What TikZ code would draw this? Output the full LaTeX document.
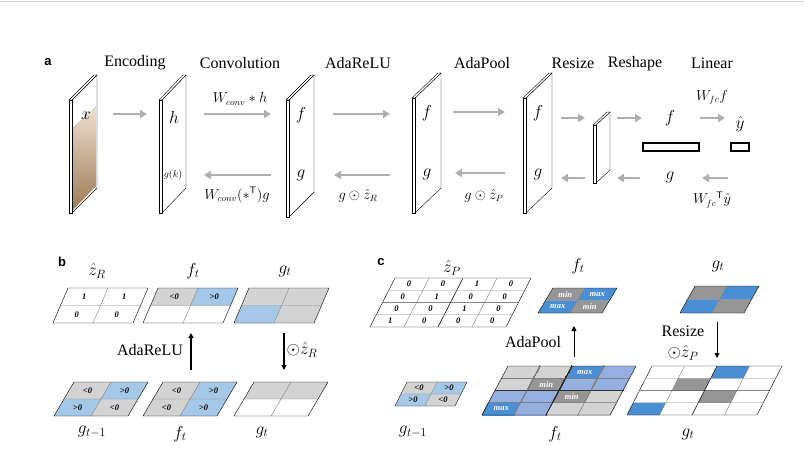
\documentclass[tikz,border=0pt]{standalone}
\usepackage{fontspec}
\setmainfont{Liberation Serif}
\newfontfamily\sansf{Liberation Sans}
\usetikzlibrary{arrows.meta}
\definecolor{lg}{RGB}{211,211,211}
\definecolor{dg}{RGB}{150,150,150}
\definecolor{lb}{RGB}{166,200,232}
\definecolor{mb}{RGB}{150,175,225}
\definecolor{db}{RGB}{74,142,212}
\definecolor{ga}{RGB}{175,175,175}
\tikzset{
 ga/.style={draw=ga,line width=2.2pt,-{Triangle[length=7pt,width=8pt]}},
 ka/.style={draw=black,line width=1.2pt,-{Triangle[length=5pt,width=5pt]}},
 ttl/.style={font=\fontsize{16}{18}\selectfont},
 ml/.style={font=\fontsize{18}{20}\selectfont},
 sl/.style={font=\fontsize{13.5}{15}\selectfont},
 ct/.style={font=\fontsize{8.5}{9}\selectfont\bfseries\itshape},
 cw/.style={ct,text=white},
 pl/.style={font=\sansf\bfseries\fontsize{13}{15}\selectfont}
}
\newcommand\slab[5]{%
 \draw[fill=white] (#1+3,-#2) -- ++(#4,#5) -- ++(0,-#3) -- ++(-#4,-#5) -- cycle;
 \draw[fill=white,line width=0.9pt] (#1,-#2) rectangle (#1+3,-#2-#3);
 \draw[fill=white] (#1,-#2) -- ++(#4,#5) -- ++(3,0) -- (#1+3,-#2) -- cycle;}
\newenvironment{pg}[5]{\begin{scope}[shift={(#1,-#2)},xscale=#3,yscale=#4,xslant=#5/#3]}{\end{scope}}
\newcommand\cell[3]{\fill[#3] (#1,#2) rectangle ++(1,1);}
\newcommand\Tp{{\mathsf{T}}}
\begin{document}
\begin{tikzpicture}[x=1pt,y=1pt]
\useasboundingbox (0,0) rectangle (804,-456);
\draw[lg] (0,-1) -- (804,-1);
% ---- a ----
\node[pl] (la) at (48,-62) {a};
\node[ttl] (t1) at (135,-63) {Encoding};
\node[ttl] (t2) at (240,-63) {Convolution};
\node[ttl] (t3) at (358,-63) {AdaReLU};
\node[ttl] (t4) at (482,-63) {AdaPool};
\node[ttl] (t5) at (573,-63) {Resize};
\node[ttl] (t6) at (635,-64) {Reshape};
\node[ttl] (t7) at (712,-63) {Linear};
\slab{69}{100}{113}{25}{25}
\shade[top color=brown!30!white,bottom color=brown!70!black,opacity=0.8] (73,-128) -- (96,-107) -- (96,-186) -- (73,-210) -- cycle;
\draw[gray!60] (73,-128) -- (96,-107);
\slab{159}{100}{113}{24}{25}
\slab{286}{100}{117}{25}{25}
\slab{412}{98}{115}{26}{25}
\slab{523}{98}{115}{26}{25}
\slab{593}{125}{58}{14}{13}
\draw[line width=1.3pt] (643,-143) rectangle (699,-151);
\draw[line width=1.3pt] (731,-143) rectangle (749,-151);
\node[ml] (x) at (86,-116) {$x$};
\node[ml] (h) at (174,-117) {$h$};
\node[font=\fontsize{10}{11}\selectfont] (gk) at (173,-175) {$g(k)$};
\node[ml] (f1) at (301,-115) {$f$};
\node[ml] (g1) at (301,-175) {$g$};
\node[ml] (f2) at (427,-113) {$f$};
\node[ml] (g2) at (427,-174) {$g$};
\node[ml] (f3) at (538,-113) {$f$};
\node[ml] (g3) at (538,-174) {$g$};
\node[ml] (f4) at (670,-118) {$f$};
\node[ml] (g4) at (670,-177) {$g$};
\node[ml] (yh) at (740,-124) {$\hat y$};
\draw[ga] (113,-114) -- (147,-114);
\draw[ga] (204,-114) -- (271,-114);
\draw[ga] (333,-114) -- (390,-114);
\draw[ga] (453,-112) -- (505,-112);
\draw[ga] (561,-118) -- (585,-118);
\draw[ga] (617,-118) -- (642,-118);
\draw[ga] (700,-118) -- (725,-118);
\draw[ga] (271,-175) -- (204,-175);
\draw[ga] (390,-175) -- (334,-175);
\draw[ga] (505,-173) -- (455,-173);
\draw[ga] (585,-178) -- (561,-178);
\draw[ga] (640,-178) -- (617,-178);
\draw[ga] (728,-178) -- (702,-178);
\node[sl] (l1) at (240,-99) {$W_{conv}*h$};
\node[sl] (l2) at (237,-195) {$W_{conv}(*^{\Tp})g$};
\node[sl] (l3) at (358,-196) {$g\odot\hat z_R$};
\node[sl] (l4) at (484,-196) {$g\odot\hat z_P$};
\node[sl] (l5) at (712,-97) {$W_{fc}f$};
\node[sl,inner sep=1pt] (l6) at (712,-200) {$W_{fc}{}^{\Tp}\hat y$};
% ---- b ----
\node[pl] (lb) at (62,-262) {b};
\node[ml] (zr) at (97,-271) {$\hat z_R$};
\node[ml] (ft1) at (193,-271) {$f_t$};
\node[ml] (gt1) at (285,-271) {$g_t$};
\begin{pg}{53}{323}{40}{17.5}{7.5}
 \draw[gray] (1,0)--(1,2) (0,1)--(2,1); \draw (0,0) rectangle (2,2);
 \node[ct] at (0.5,1.5) {1}; \node[ct] at (1.5,1.5) {1};
 \node[ct] at (0.5,0.5) {0}; \node[ct] at (1.5,0.5) {0};
\end{pg}
\begin{pg}{143}{323}{40}{17.5}{7.5}
 \cell{0}{1}{lg}\cell{1}{1}{lb}
 \draw[gray] (1,0)--(1,2) (0,1)--(2,1); \draw (0,0) rectangle (2,2);
 \node[ct] at (0.5,1.5) {<0}; \node[ct] at (1.5,1.5) {>0};
\end{pg}
\begin{pg}{234}{323}{40}{17.5}{7.5}
 \cell{0}{1}{lg}\cell{1}{1}{lg}\cell{0}{0}{lb}\cell{1}{0}{lg}
 \draw[gray] (1,0)--(1,2) (0,1)--(2,1); \draw (0,0) rectangle (2,2);
\end{pg}
\begin{pg}{54}{416}{37}{17}{10}
 \cell{0}{1}{lg}\cell{1}{1}{lb}\cell{0}{0}{lb}\cell{1}{0}{lg}
 \draw[gray] (1,0)--(1,2) (0,1)--(2,1); \draw (0,0) rectangle (2,2);
 \node[ct] at (0.5,1.5) {<0}; \node[ct] at (1.5,1.5) {>0};
 \node[ct] at (0.5,0.5) {>0}; \node[ct] at (1.5,0.5) {<0};
\end{pg}
\begin{pg}{143}{416}{37}{17}{10}
 \cell{0}{1}{lg}\cell{1}{1}{lb}\cell{0}{0}{lg}\cell{1}{0}{lb}
 \draw[gray] (1,0)--(1,2) (0,1)--(2,1); \draw (0,0) rectangle (2,2);
 \node[ct] at (0.5,1.5) {<0}; \node[ct] at (1.5,1.5) {>0};
 \node[ct] at (0.5,0.5) {<0}; \node[ct] at (1.5,0.5) {>0};
\end{pg}
\begin{pg}{234}{416}{37}{17}{10}
 \cell{0}{1}{lg}\cell{1}{1}{lg}
 \draw[gray] (1,0)--(1,2) (0,1)--(2,1); \draw (0,0) rectangle (2,2);
\end{pg}
\node[ml] (gtm) at (92,-432) {$g_{t-1}$};
\node[ml] (ft2) at (180,-434) {$f_t$};
\node[ml] (gt2) at (262,-432) {$g_t$};
\coordinate (ab1) at (191,-370); \coordinate (ab2) at (191,-333);
\draw[ka] (ab1) -- (ab2);
\coordinate (ab3) at (284,-333); \coordinate (ab4) at (284,-370);
\draw[ka] (ab3) -- (ab4);
\node[ttl] (ar) at (150,-350) {AdaReLU};
\node[ml] (oz) at (302,-350) {$\odot\hat z_R$};
% ---- c ----
\node[pl] (lc) at (381,-262) {c};
\node[ml] (zp) at (452,-268) {$\hat z_P$};
\begin{pg}{370}{327}{34}{12.25}{6.25}
 \foreach \i in {1,2,3} {\draw[gray] (\i,0)--(\i,4) (0,\i)--(4,\i);}
 \draw (2,0)--(2,4) (0,2)--(4,2); \draw (0,0) rectangle (4,4);
 \foreach \v [count=\k from 0] in {0,0,1,0} \node[ct] at (\k+0.5,3.5) {\v};
 \foreach \v [count=\k from 0] in {0,1,0,0} \node[ct] at (\k+0.5,2.5) {\v};
 \foreach \v [count=\k from 0] in {0,0,1,0} \node[ct] at (\k+0.5,1.5) {\v};
 \foreach \v [count=\k from 0] in {1,0,0,0} \node[ct] at (\k+0.5,0.5) {\v};
\end{pg}
\node[ml] (ft3) at (578,-266) {$f_t$};
\begin{pg}{538}{313}{32}{12.5}{7.5}
 \cell{0}{1}{dg}\cell{1}{1}{db}\cell{0}{0}{db}\cell{1}{0}{dg}
 \draw[gray] (1,0)--(1,2) (0,1)--(2,1); \draw (0,0) rectangle (2,2);
 \node[cw] at (0.5,1.5) {min}; \node[cw] at (1.5,1.5) {max};
 \node[cw] at (0.5,0.5) {max}; \node[cw] at (1.5,0.5) {min};
\end{pg}
\node[ml] (gt3) at (718,-266) {$g_t$};
\begin{pg}{680}{313}{32}{13.5}{7.5}
 \cell{0}{1}{dg}\cell{1}{1}{db}\cell{0}{0}{db}\cell{1}{0}{dg}
 \draw[gray] (1,0)--(1,2) (0,1)--(2,1); \draw (0,0) rectangle (2,2);
\end{pg}
\begin{pg}{395}{406}{30}{12}{6}
 \cell{0}{1}{lg}\cell{1}{1}{lb}\cell{0}{0}{lb}\cell{1}{0}{lg}
 \draw[gray] (1,0)--(1,2) (0,1)--(2,1); \draw (0,0) rectangle (2,2);
 \node[ct] at (0.5,1.5) {<0}; \node[ct] at (1.5,1.5) {>0};
 \node[ct] at (0.5,0.5) {>0}; \node[ct] at (1.5,0.5) {<0};
\end{pg}
\node[ml] (gtm2) at (413,-432) {$g_{t-1}$};
\begin{pg}{482}{415}{32}{12.25}{6.5}
 \foreach \c [count=\k from 0] in {lg,lg,db,mb} \cell{\k}{3}{\c}
 \foreach \c [count=\k from 0] in {lg,dg,mb,mb} \cell{\k}{2}{\c}
 \foreach \c [count=\k from 0] in {mb,mb,dg,lg} \cell{\k}{1}{\c}
 \foreach \c [count=\k from 0] in {db,mb,lg,lg} \cell{\k}{0}{\c}
 \foreach \i in {1,2,3} {\draw[gray] (\i,0)--(\i,4) (0,\i)--(4,\i);}
 \draw (2,0)--(2,4) (0,2)--(4,2); \draw (0,0) rectangle (4,4);
 \node[cw] at (2.5,3.5) {max}; \node[cw] at (1.5,2.5) {min};
 \node[cw] at (2.5,1.5) {min}; \node[cw] at (0.5,0.5) {max};
\end{pg}
\node[ml] (ft4) at (555,-434) {$f_t$};
\begin{pg}{627}{415}{32.5}{12.25}{6.25}
 \cell{2}{3}{db}\cell{1}{2}{dg}\cell{2}{1}{dg}\cell{0}{0}{db}
 \foreach \i in {1,2,3} {\draw[gray] (\i,0)--(\i,4) (0,\i)--(4,\i);}
 \draw (2,0)--(2,4) (0,2)--(4,2); \draw (0,0) rectangle (4,4);
\end{pg}
\node[ml] (gt4) at (688,-434) {$g_t$};
\coordinate (cp1) at (574,-357); \coordinate (cp2) at (574,-326);
\draw[ka,line width=0.8pt] (cp1) -- (cp2);
\node[ttl] (ap) at (533,-342) {AdaPool};
\coordinate (cr1) at (717,-322); \coordinate (cr2) at (717,-358);
\draw[ka,line width=0.8pt] (cr1) -- (cr2);
\node[ttl] (rs) at (683,-331) {Resize};
\node[ml] (ozp) at (683,-353) {$\odot\hat z_P$};
\end{tikzpicture}
\end{document}
